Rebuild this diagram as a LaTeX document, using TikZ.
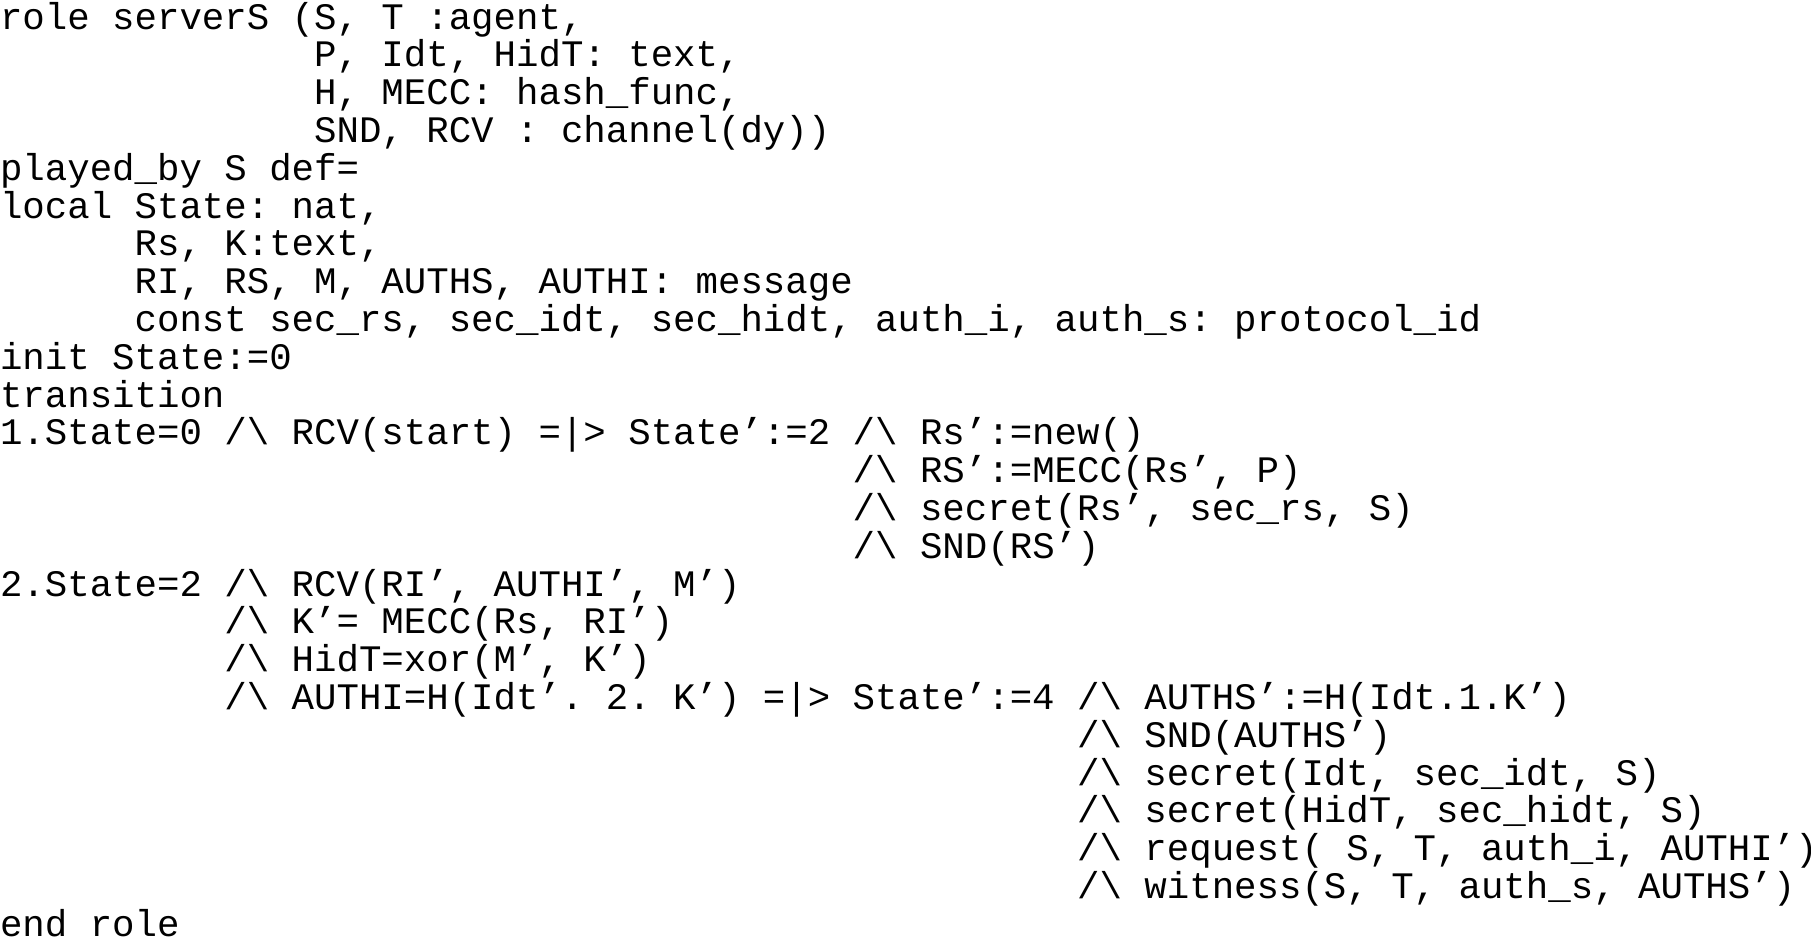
\documentclass[tikz,border=0pt]{standalone}
\usepackage{fontspec}
\setmonofont{Liberation Mono}
\newcommand{\bs}{/\textbackslash}
\begin{document}
\begin{tikzpicture}[x=1pt,y=1pt,
  ln/.style={anchor=base west,inner sep=0pt,outer sep=0pt,font=\fontsize{37.4}{37.8}\selectfont\ttfamily}]
\useasboundingbox (0,0) rectangle (1811,-937);
\def\cw{22.44}
\def\ls{37.8}
\def\yy#1{-29-\ls*(#1-1)}
\node[ln] (l1) at (0,{\yy{1}}) {role serverS (S, T :agent,};
\node[ln] (l2) at ({14*\cw},{\yy{2}}) {P, Idt, HidT: text,};
\node[ln] (l3) at ({14*\cw},{\yy{3}}) {H, MECC: hash\_func,};
\node[ln] (l4) at ({14*\cw},{\yy{4}}) {SND, RCV : channel(dy))};
\node[ln] (l5) at (0,{\yy{5}}) {played\_by S def=};
\node[ln] (l6) at (0,{\yy{6}}) {local State: nat,};
\node[ln] (l7) at ({6*\cw},{\yy{7}}) {Rs, K:text,};
\node[ln] (l8) at ({6*\cw},{\yy{8}}) {RI, RS, M, AUTHS, AUTHI: message};
\node[ln] (l9) at ({6*\cw},{\yy{9}}) {const sec\_rs, sec\_idt, sec\_hidt, auth\_i, auth\_s: protocol\_id};
\node[ln] (l10) at (0,{\yy{10}}) {init State:=0};
\node[ln] (l11) at (0,{\yy{11}}) {transition};
\node[ln] (l12) at (0,{\yy{12}}) {1.State=0 \bs{} RCV(start) =|> State’:=2 \bs{} Rs’:=new()};
\node[ln] (l13) at ({38*\cw},{\yy{13}}) {\bs{} RS’:=MECC(Rs’, P)};
\node[ln] (l14) at ({38*\cw},{\yy{14}}) {\bs{} secret(Rs’, sec\_rs, S)};
\node[ln] (l15) at ({38*\cw},{\yy{15}}) {\bs{} SND(RS’)};
\node[ln] (l16) at (0,{\yy{16}}) {2.State=2 \bs{} RCV(RI’, AUTHI’, M’)};
\node[ln] (l17) at ({10*\cw},{\yy{17}}) {\bs{} K’= MECC(Rs, RI’)};
\node[ln] (l18) at ({10*\cw},{\yy{18}}) {\bs{} HidT=xor(M’, K’)};
\node[ln] (l19) at ({10*\cw},{\yy{19}}) {\bs{} AUTHI=H(Idt’. 2. K’) =|> State’:=4 \bs{} AUTHS’:=H(Idt.1.K’)};
\node[ln] (l20) at ({48*\cw},{\yy{20}}) {\bs{} SND(AUTHS’)};
\node[ln] (l21) at ({48*\cw},{\yy{21}}) {\bs{} secret(Idt, sec\_idt, S)};
\node[ln] (l22) at ({48*\cw},{\yy{22}}) {\bs{} secret(HidT, sec\_hidt, S)};
\node[ln] (l23) at ({48*\cw},{\yy{23}}) {\bs{} request( S, T, auth\_i, AUTHI’)};
\node[ln] (l24) at ({48*\cw},{\yy{24}}) {\bs{} witness(S, T, auth\_s, AUTHS’)};
\node[ln] (l25) at (0,{\yy{25}}) {end role};
\end{tikzpicture}
\end{document}
